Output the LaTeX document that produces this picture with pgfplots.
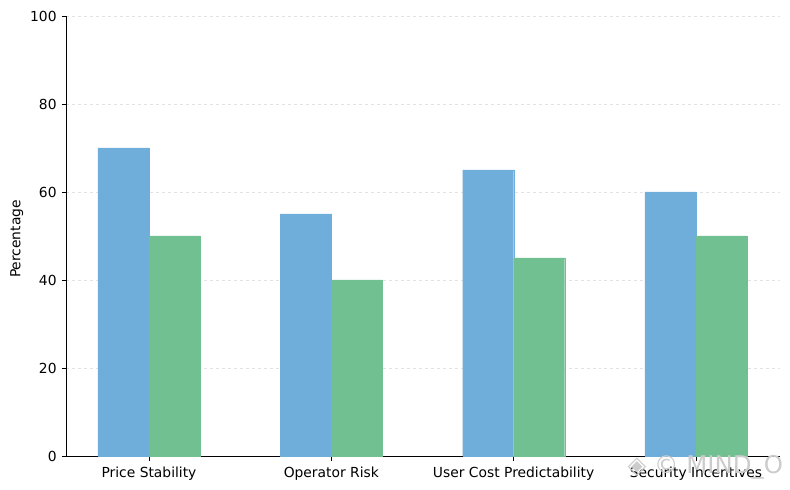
\documentclass[border=0pt]{standalone}
\usepackage{fontspec}
\setmainfont{DejaVu Sans}
\usepackage{pgfplots}
\pgfplotsset{compat=1.18}
\definecolor{barblue}{RGB}{111,174,219}
\definecolor{bargreen}{RGB}{113,192,145}
\begin{document}
\begin{tikzpicture}
\useasboundingbox (-66.5bp,-34bp) rectangle (723.5bp,456bp);
\begin{axis}[
    at={(0,0)},
    anchor=south west,
    scale only axis,
    width=713.5bp,
    height=440bp,
    xmin=-0.4525, xmax=3.461,
    ymin=0, ymax=100,
    ybar=0pt,
    bar width=51bp,
    xtick={0,1,2,3},
    xticklabels={Price Stability,Operator Risk,User Cost Predictability,Security Incentives},
    ytick={0,20,40,60,80,100},
    ylabel={Percentage},
    ylabel style={font=\fontsize{13.9}{16}\selectfont,xshift=-3bp},
    ylabel shift=0bp,
    ticklabel style={font=\fontsize{13.9}{16}\selectfont},
    x tick label style={yshift=-3bp},
    y tick label style={xshift=-1.5bp},
    /pgf/number format/assume math mode=true,
    axis x line*=bottom,
    axis y line*=left,
    axis line style={line width=0.8bp},
    tick align=outside,
    major tick length=4.9bp,
    tick style={line width=0.8bp,black},
    ymajorgrids=true,
    grid style={dashed,black!11,line width=0.5bp},
]
\addplot[fill=barblue,draw=barblue,line width=0.1bp] coordinates {(0,70) (1,55) (2,65) (3,60)};
\addplot[fill=bargreen,draw=bargreen,line width=0.1bp] coordinates {(0,50) (1,40) (2,45) (3,50)};
\end{axis}
\node[font=\fontsize{24.5}{28}\selectfont,text=gray!40,anchor=west,inner sep=0pt] at (561bp,-11bp) {◈ © MIND\_O};
\end{tikzpicture}
\end{document}
